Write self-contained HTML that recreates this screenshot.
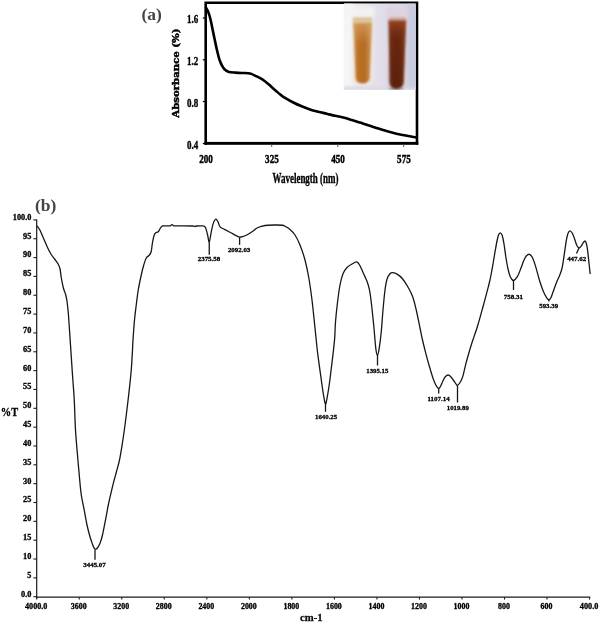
<!DOCTYPE html>
<html lang="en"><head><meta charset="utf-8"><title>Figure: UV-Vis absorbance and FTIR spectrum</title>
<style>
html,body{margin:0;padding:0;background:#fff;}
body{width:600px;height:623px;overflow:hidden;}
svg{display:block;}
.ser{font-family:"Liberation Serif","DejaVu Serif",serif;font-weight:bold;}
.san{font-family:"Liberation Sans","DejaVu Sans",sans-serif;font-weight:bold;}
.wide{font-family:"DejaVu Serif","Liberation Serif",serif;font-weight:bold;}
</style></head><body>
<svg width="600" height="623" viewBox="0 0 600 623">
<defs>
<filter id="b1" x="-20%" y="-20%" width="140%" height="140%"><feGaussianBlur stdDeviation="0.9"/></filter>
<filter id="b2" x="-20%" y="-20%" width="140%" height="140%"><feGaussianBlur stdDeviation="1.6"/></filter>
<filter id="soft" x="-5%" y="-5%" width="110%" height="110%"><feGaussianBlur stdDeviation="0.35"/></filter>
<linearGradient id="bg" x1="0" y1="0" x2="1" y2="0">
<stop offset="0" stop-color="#f3f3f6"/><stop offset="0.45" stop-color="#e3e0ea"/><stop offset="1" stop-color="#d2d3e5"/></linearGradient>
<linearGradient id="t1" x1="0" y1="0" x2="1" y2="0">
<stop offset="0" stop-color="#cf9a52"/><stop offset="0.25" stop-color="#bd7226"/><stop offset="0.6" stop-color="#b66a20"/><stop offset="1" stop-color="#cf9c60"/></linearGradient>
<linearGradient id="t2" x1="0" y1="0" x2="1" y2="0">
<stop offset="0" stop-color="#7a3a22"/><stop offset="0.3" stop-color="#5e2411"/><stop offset="0.7" stop-color="#66280f"/><stop offset="1" stop-color="#8a4a30"/></linearGradient>
<linearGradient id="t1v" x1="0" y1="0" x2="0" y2="1"><stop offset="0" stop-color="#d6a266" stop-opacity="0.7"/><stop offset="1" stop-color="#d6a266" stop-opacity="0"/></linearGradient>
<linearGradient id="t2v" x1="0" y1="0" x2="0" y2="1">
<stop offset="0" stop-color="#a04a22" stop-opacity="0.9"/><stop offset="0.25" stop-color="#7a2e14" stop-opacity="0.3"/><stop offset="1" stop-color="#4a1a0c" stop-opacity="0.3"/></linearGradient>
<clipPath id="pc"><rect x="343.6" y="3.2" width="72.2" height="86.6"/></clipPath>
</defs>
<rect width="600" height="623" fill="#fff"/>
<g id="panel-a">
<path d="M205.7,144.8 V2.7 H417 V144.8" fill="none" stroke="#000" stroke-width="2.6" stroke-linejoin="miter"/>
<rect x="204.4" y="141.9" width="213.9" height="2.9" fill="#000"/>
<g clip-path="url(#pc)">
<rect x="343.6" y="3.2" width="72.2" height="86.6" fill="url(#bg)"/>
<g filter="url(#b2)">
<rect x="343" y="86.5" width="74" height="5" fill="#dcdae4"/>
<ellipse cx="396" cy="89.3" rx="8" ry="1.6" fill="#5a4a4a" opacity="0.7"/>
<rect x="344" y="4" width="9" height="82" fill="#f6f6f8" opacity="0.8"/>
<rect x="408" y="4" width="9" height="84" fill="#c6c9de" opacity="0.8"/>
<rect x="350.5" y="7" width="24" height="12" rx="2" fill="#f5f2f2" opacity="0.85"/>
<rect x="351.5" y="18" width="22" height="66" rx="3" fill="#efe6df" opacity="0.8"/>
<rect x="386.5" y="7.5" width="22" height="12" rx="2" fill="#dfd3dd" opacity="0.9"/>
<rect x="386.8" y="18" width="21" height="70" rx="3" fill="#d9cfd8" opacity="0.8"/>
</g>
<g filter="url(#b1)">
<rect x="353" y="17.3" width="19" height="6.5" fill="#dcc59a"/>
<path d="M353.3,23.3 H372 L369.8,78 Q369.2,83.4 362.6,83.4 Q356,83.4 355.5,78 Z" fill="url(#t1)"/>
<path d="M353.3,23.3 H372 L371.2,44 H354.1 Z" fill="url(#t1v)"/>
<path d="M388.6,20 H406.2 L403.8,82 Q403.2,88.8 396.2,88.8 Q389.8,88.8 389.4,82 Z" fill="url(#t2)"/>
<path d="M388.6,20 H406.2 L403.8,82 Q403.2,88.8 396.2,88.8 Q389.8,88.8 389.4,82 Z" fill="url(#t2v)"/>
<rect x="389.2" y="17.5" width="16.5" height="3" fill="#c49a8a" opacity="0.8"/>
</g></g>
<path d="M205.60,7.00 C205.93,7.58 206.93,9.00 207.60,10.50 C208.27,12.00 209.00,14.00 209.60,16.00 C210.20,18.00 210.67,20.08 211.20,22.50 C211.73,24.92 212.20,27.57 212.80,30.50 C213.40,33.43 214.12,36.88 214.80,40.10 C215.48,43.32 216.22,46.85 216.90,49.80 C217.58,52.75 218.23,55.53 218.90,57.80 C219.57,60.07 220.17,61.75 220.90,63.40 C221.63,65.05 222.50,66.55 223.30,67.70 C224.10,68.85 224.77,69.60 225.70,70.30 C226.63,71.00 227.30,71.52 228.90,71.90 C230.50,72.28 233.17,72.42 235.30,72.60 C237.43,72.78 239.55,72.90 241.70,73.00 C243.85,73.10 246.58,73.05 248.20,73.20 C249.82,73.35 250.07,73.40 251.40,73.90 C252.73,74.40 254.43,75.32 256.20,76.20 C257.97,77.08 259.98,77.90 262.00,79.20 C264.02,80.50 266.55,82.57 268.30,84.00 C270.05,85.43 271.10,86.55 272.50,87.80 C273.90,89.05 275.32,90.32 276.70,91.50 C278.08,92.68 279.42,93.83 280.80,94.90 C282.18,95.97 282.92,96.63 285.00,97.90 C287.08,99.17 290.52,101.10 293.30,102.50 C296.08,103.90 298.92,105.15 301.70,106.30 C304.48,107.45 307.23,108.50 310.00,109.40 C312.77,110.30 315.52,110.98 318.30,111.70 C321.08,112.42 323.92,113.02 326.70,113.70 C329.48,114.38 332.23,115.15 335.00,115.80 C337.77,116.45 340.52,116.90 343.30,117.60 C346.08,118.30 348.92,119.17 351.70,120.00 C354.48,120.83 357.78,121.89 360.00,122.60 C362.22,123.31 362.08,123.31 365.00,124.25 C367.92,125.19 373.33,126.96 377.50,128.25 C381.67,129.54 385.83,130.88 390.00,132.00 C394.17,133.12 398.17,134.10 402.50,135.00 C406.83,135.90 413.75,137.00 416.00,137.40" fill="none" stroke="#000" stroke-width="2.6" stroke-linecap="butt" stroke-linejoin="round"/>
<line x1="202.8" y1="18.00" x2="205" y2="18.00" stroke="#000" stroke-width="1.2"/>
<text class="ser" x="198.2" y="23.20" font-size="13.5" text-anchor="end" textLength="11.2" lengthAdjust="spacingAndGlyphs" fill="#000" stroke="#000" stroke-width="0.4">1.6</text>
<line x1="202.8" y1="59.75" x2="205" y2="59.75" stroke="#000" stroke-width="1.2"/>
<text class="ser" x="198.2" y="64.95" font-size="13.5" text-anchor="end" textLength="11.2" lengthAdjust="spacingAndGlyphs" fill="#000" stroke="#000" stroke-width="0.4">1.2</text>
<line x1="202.8" y1="101.50" x2="205" y2="101.50" stroke="#000" stroke-width="1.2"/>
<text class="ser" x="198.2" y="106.70" font-size="13.5" text-anchor="end" textLength="11.2" lengthAdjust="spacingAndGlyphs" fill="#000" stroke="#000" stroke-width="0.4">0.8</text>
<line x1="202.8" y1="143.50" x2="205" y2="143.50" stroke="#000" stroke-width="1.2"/>
<text class="ser" x="198.2" y="148.70" font-size="13.5" text-anchor="end" textLength="11.2" lengthAdjust="spacingAndGlyphs" fill="#000" stroke="#000" stroke-width="0.4">0.4</text>
<text class="ser" x="206.00" y="162.7" font-size="13.3" text-anchor="middle" textLength="13.6" lengthAdjust="spacingAndGlyphs" fill="#000" stroke="#000" stroke-width="0.5">200</text>
<line x1="271.70" y1="144" x2="271.70" y2="147" stroke="#444" stroke-width="0.9"/>
<text class="ser" x="271.90" y="162.7" font-size="13.3" text-anchor="middle" textLength="13.6" lengthAdjust="spacingAndGlyphs" fill="#000" stroke="#000" stroke-width="0.5">325</text>
<line x1="337.80" y1="144" x2="337.80" y2="147" stroke="#444" stroke-width="0.9"/>
<text class="ser" x="338.00" y="162.7" font-size="13.3" text-anchor="middle" textLength="13.6" lengthAdjust="spacingAndGlyphs" fill="#000" stroke="#000" stroke-width="0.5">450</text>
<line x1="403.70" y1="144" x2="403.70" y2="147" stroke="#444" stroke-width="0.9"/>
<text class="ser" x="403.90" y="162.7" font-size="13.3" text-anchor="middle" textLength="13.6" lengthAdjust="spacingAndGlyphs" fill="#000" stroke="#000" stroke-width="0.5">575</text>
<text class="ser" x="305.5" y="182.5" font-size="13.6" text-anchor="middle" textLength="66" lengthAdjust="spacingAndGlyphs" fill="#000" stroke="#000" stroke-width="0.35">Wavelength (nm)</text>
<text class="wide" transform="translate(178.9,73.1) rotate(-90)" font-size="8.6" text-anchor="middle" textLength="89.2" lengthAdjust="spacingAndGlyphs" fill="#000" stroke="#000" stroke-width="0.45">Absorbance (%)</text>
<text class="ser" x="151.7" y="19.6" font-size="17.5" text-anchor="middle" fill="#444">(a)</text>
</g>
<g id="panel-b">
<text class="ser" x="45.7" y="211" font-size="17.5" text-anchor="middle" fill="#444">(b)</text>
<line x1="36.70" y1="219.6" x2="36.70" y2="598.6" stroke="#1a1a1a" stroke-width="1.2"/>
<line x1="36.10" y1="597.20" x2="590.3" y2="597.20" stroke="#1a1a1a" stroke-width="1.3"/>
<line x1="33.4" y1="219.90" x2="36.70" y2="219.90" stroke="#1a1a1a" stroke-width="1.1"/>
<text class="ser" x="31.4" y="219.80" font-size="7.8" text-anchor="end" textLength="18.6" lengthAdjust="spacingAndGlyphs" fill="#000" stroke="#000" stroke-width="0.3">100.0</text>
<line x1="33.4" y1="238.74" x2="36.70" y2="238.74" stroke="#1a1a1a" stroke-width="1.1"/>
<text class="ser" x="31.4" y="238.64" font-size="7.8" text-anchor="end" textLength="8.3" lengthAdjust="spacingAndGlyphs" fill="#000" stroke="#000" stroke-width="0.3">95</text>
<line x1="33.4" y1="257.58" x2="36.70" y2="257.58" stroke="#1a1a1a" stroke-width="1.1"/>
<text class="ser" x="31.4" y="257.48" font-size="7.8" text-anchor="end" textLength="8.3" lengthAdjust="spacingAndGlyphs" fill="#000" stroke="#000" stroke-width="0.3">90</text>
<line x1="33.4" y1="276.42" x2="36.70" y2="276.42" stroke="#1a1a1a" stroke-width="1.1"/>
<text class="ser" x="31.4" y="276.32" font-size="7.8" text-anchor="end" textLength="8.3" lengthAdjust="spacingAndGlyphs" fill="#000" stroke="#000" stroke-width="0.3">85</text>
<line x1="33.4" y1="295.26" x2="36.70" y2="295.26" stroke="#1a1a1a" stroke-width="1.1"/>
<text class="ser" x="31.4" y="295.16" font-size="7.8" text-anchor="end" textLength="8.3" lengthAdjust="spacingAndGlyphs" fill="#000" stroke="#000" stroke-width="0.3">80</text>
<line x1="33.4" y1="314.10" x2="36.70" y2="314.10" stroke="#1a1a1a" stroke-width="1.1"/>
<text class="ser" x="31.4" y="314.00" font-size="7.8" text-anchor="end" textLength="8.3" lengthAdjust="spacingAndGlyphs" fill="#000" stroke="#000" stroke-width="0.3">75</text>
<line x1="33.4" y1="332.94" x2="36.70" y2="332.94" stroke="#1a1a1a" stroke-width="1.1"/>
<text class="ser" x="31.4" y="332.84" font-size="7.8" text-anchor="end" textLength="8.3" lengthAdjust="spacingAndGlyphs" fill="#000" stroke="#000" stroke-width="0.3">70</text>
<line x1="33.4" y1="351.78" x2="36.70" y2="351.78" stroke="#1a1a1a" stroke-width="1.1"/>
<text class="ser" x="31.4" y="351.68" font-size="7.8" text-anchor="end" textLength="8.3" lengthAdjust="spacingAndGlyphs" fill="#000" stroke="#000" stroke-width="0.3">65</text>
<line x1="33.4" y1="370.62" x2="36.70" y2="370.62" stroke="#1a1a1a" stroke-width="1.1"/>
<text class="ser" x="31.4" y="370.52" font-size="7.8" text-anchor="end" textLength="8.3" lengthAdjust="spacingAndGlyphs" fill="#000" stroke="#000" stroke-width="0.3">60</text>
<line x1="33.4" y1="389.46" x2="36.70" y2="389.46" stroke="#1a1a1a" stroke-width="1.1"/>
<text class="ser" x="31.4" y="389.36" font-size="7.8" text-anchor="end" textLength="8.3" lengthAdjust="spacingAndGlyphs" fill="#000" stroke="#000" stroke-width="0.3">55</text>
<line x1="33.4" y1="408.30" x2="36.70" y2="408.30" stroke="#1a1a1a" stroke-width="1.1"/>
<text class="ser" x="31.4" y="408.20" font-size="7.8" text-anchor="end" textLength="8.3" lengthAdjust="spacingAndGlyphs" fill="#000" stroke="#000" stroke-width="0.3">50</text>
<line x1="33.4" y1="427.14" x2="36.70" y2="427.14" stroke="#1a1a1a" stroke-width="1.1"/>
<text class="ser" x="31.4" y="427.04" font-size="7.8" text-anchor="end" textLength="8.3" lengthAdjust="spacingAndGlyphs" fill="#000" stroke="#000" stroke-width="0.3">45</text>
<line x1="33.4" y1="445.98" x2="36.70" y2="445.98" stroke="#1a1a1a" stroke-width="1.1"/>
<text class="ser" x="31.4" y="445.88" font-size="7.8" text-anchor="end" textLength="8.3" lengthAdjust="spacingAndGlyphs" fill="#000" stroke="#000" stroke-width="0.3">40</text>
<line x1="33.4" y1="464.82" x2="36.70" y2="464.82" stroke="#1a1a1a" stroke-width="1.1"/>
<text class="ser" x="31.4" y="464.72" font-size="7.8" text-anchor="end" textLength="8.3" lengthAdjust="spacingAndGlyphs" fill="#000" stroke="#000" stroke-width="0.3">35</text>
<line x1="33.4" y1="483.66" x2="36.70" y2="483.66" stroke="#1a1a1a" stroke-width="1.1"/>
<text class="ser" x="31.4" y="483.56" font-size="7.8" text-anchor="end" textLength="8.3" lengthAdjust="spacingAndGlyphs" fill="#000" stroke="#000" stroke-width="0.3">30</text>
<line x1="33.4" y1="502.50" x2="36.70" y2="502.50" stroke="#1a1a1a" stroke-width="1.1"/>
<text class="ser" x="31.4" y="502.40" font-size="7.8" text-anchor="end" textLength="8.3" lengthAdjust="spacingAndGlyphs" fill="#000" stroke="#000" stroke-width="0.3">25</text>
<line x1="33.4" y1="521.34" x2="36.70" y2="521.34" stroke="#1a1a1a" stroke-width="1.1"/>
<text class="ser" x="31.4" y="521.24" font-size="7.8" text-anchor="end" textLength="8.3" lengthAdjust="spacingAndGlyphs" fill="#000" stroke="#000" stroke-width="0.3">20</text>
<line x1="33.4" y1="540.18" x2="36.70" y2="540.18" stroke="#1a1a1a" stroke-width="1.1"/>
<text class="ser" x="31.4" y="540.08" font-size="7.8" text-anchor="end" textLength="8.3" lengthAdjust="spacingAndGlyphs" fill="#000" stroke="#000" stroke-width="0.3">15</text>
<line x1="33.4" y1="559.02" x2="36.70" y2="559.02" stroke="#1a1a1a" stroke-width="1.1"/>
<text class="ser" x="31.4" y="558.92" font-size="7.8" text-anchor="end" textLength="8.3" lengthAdjust="spacingAndGlyphs" fill="#000" stroke="#000" stroke-width="0.3">10</text>
<line x1="33.4" y1="577.86" x2="36.70" y2="577.86" stroke="#1a1a1a" stroke-width="1.1"/>
<text class="ser" x="31.4" y="577.76" font-size="7.8" text-anchor="end" textLength="4.1" lengthAdjust="spacingAndGlyphs" fill="#000" stroke="#000" stroke-width="0.3">5</text>
<line x1="33.4" y1="596.70" x2="36.70" y2="596.70" stroke="#1a1a1a" stroke-width="1.1"/>
<text class="ser" x="31.4" y="596.60" font-size="7.8" text-anchor="end" textLength="10.4" lengthAdjust="spacingAndGlyphs" fill="#000" stroke="#000" stroke-width="0.3">0.0</text>
<line x1="36.70" y1="597.20" x2="36.70" y2="599.6" stroke="#1a1a1a" stroke-width="1.1"/>
<text class="ser" x="36.20" y="609.3" font-size="7.8" text-anchor="middle" textLength="22.3" lengthAdjust="spacingAndGlyphs" fill="#000" stroke="#000" stroke-width="0.3">4000.0</text>
<line x1="79.23" y1="597.20" x2="79.23" y2="599.6" stroke="#1a1a1a" stroke-width="1.1"/>
<text class="ser" x="78.73" y="609.3" font-size="7.8" text-anchor="middle" textLength="15.8" lengthAdjust="spacingAndGlyphs" fill="#000" stroke="#000" stroke-width="0.3">3600</text>
<line x1="121.76" y1="597.20" x2="121.76" y2="599.6" stroke="#1a1a1a" stroke-width="1.1"/>
<text class="ser" x="121.26" y="609.3" font-size="7.8" text-anchor="middle" textLength="15.8" lengthAdjust="spacingAndGlyphs" fill="#000" stroke="#000" stroke-width="0.3">3200</text>
<line x1="164.29" y1="597.20" x2="164.29" y2="599.6" stroke="#1a1a1a" stroke-width="1.1"/>
<text class="ser" x="163.79" y="609.3" font-size="7.8" text-anchor="middle" textLength="15.8" lengthAdjust="spacingAndGlyphs" fill="#000" stroke="#000" stroke-width="0.3">2800</text>
<line x1="206.82" y1="597.20" x2="206.82" y2="599.6" stroke="#1a1a1a" stroke-width="1.1"/>
<text class="ser" x="206.32" y="609.3" font-size="7.8" text-anchor="middle" textLength="15.8" lengthAdjust="spacingAndGlyphs" fill="#000" stroke="#000" stroke-width="0.3">2400</text>
<line x1="249.35" y1="597.20" x2="249.35" y2="599.6" stroke="#1a1a1a" stroke-width="1.1"/>
<text class="ser" x="248.85" y="609.3" font-size="7.8" text-anchor="middle" textLength="15.8" lengthAdjust="spacingAndGlyphs" fill="#000" stroke="#000" stroke-width="0.3">2000</text>
<line x1="291.88" y1="597.20" x2="291.88" y2="599.6" stroke="#1a1a1a" stroke-width="1.1"/>
<text class="ser" x="291.38" y="609.3" font-size="7.8" text-anchor="middle" textLength="15.8" lengthAdjust="spacingAndGlyphs" fill="#000" stroke="#000" stroke-width="0.3">1800</text>
<line x1="334.41" y1="597.20" x2="334.41" y2="599.6" stroke="#1a1a1a" stroke-width="1.1"/>
<text class="ser" x="333.91" y="609.3" font-size="7.8" text-anchor="middle" textLength="15.8" lengthAdjust="spacingAndGlyphs" fill="#000" stroke="#000" stroke-width="0.3">1600</text>
<line x1="376.94" y1="597.20" x2="376.94" y2="599.6" stroke="#1a1a1a" stroke-width="1.1"/>
<text class="ser" x="376.44" y="609.3" font-size="7.8" text-anchor="middle" textLength="15.8" lengthAdjust="spacingAndGlyphs" fill="#000" stroke="#000" stroke-width="0.3">1400</text>
<line x1="419.47" y1="597.20" x2="419.47" y2="599.6" stroke="#1a1a1a" stroke-width="1.1"/>
<text class="ser" x="418.97" y="609.3" font-size="7.8" text-anchor="middle" textLength="15.8" lengthAdjust="spacingAndGlyphs" fill="#000" stroke="#000" stroke-width="0.3">1200</text>
<line x1="462.00" y1="597.20" x2="462.00" y2="599.6" stroke="#1a1a1a" stroke-width="1.1"/>
<text class="ser" x="461.50" y="609.3" font-size="7.8" text-anchor="middle" textLength="15.8" lengthAdjust="spacingAndGlyphs" fill="#000" stroke="#000" stroke-width="0.3">1000</text>
<line x1="504.53" y1="597.20" x2="504.53" y2="599.6" stroke="#1a1a1a" stroke-width="1.1"/>
<text class="ser" x="504.03" y="609.3" font-size="7.8" text-anchor="middle" textLength="11.9" lengthAdjust="spacingAndGlyphs" fill="#000" stroke="#000" stroke-width="0.3">800</text>
<line x1="547.06" y1="597.20" x2="547.06" y2="599.6" stroke="#1a1a1a" stroke-width="1.1"/>
<text class="ser" x="546.56" y="609.3" font-size="7.8" text-anchor="middle" textLength="11.9" lengthAdjust="spacingAndGlyphs" fill="#000" stroke="#000" stroke-width="0.3">600</text>
<line x1="589.59" y1="597.20" x2="589.59" y2="599.6" stroke="#1a1a1a" stroke-width="1.1"/>
<text class="ser" x="589.09" y="609.3" font-size="7.8" text-anchor="middle" textLength="18.6" lengthAdjust="spacingAndGlyphs" fill="#000" stroke="#000" stroke-width="0.3">400.0</text>
<text class="ser" x="0.8" y="416.3" font-size="11.6" textLength="17.3" lengthAdjust="spacingAndGlyphs" fill="#000" stroke="#000" stroke-width="0.3">%T</text>
<text class="ser" x="311.3" y="620.9" font-size="10.7" text-anchor="middle" textLength="22.6" lengthAdjust="spacingAndGlyphs" fill="#111" stroke="#111" stroke-width="0.3">cm-1</text>
<path d="M36.75,225.80 C36.99,226.07 37.66,226.65 38.20,227.40 C38.74,228.15 39.08,228.41 40.00,230.30 C40.92,232.19 42.50,235.88 43.75,238.75 C45.00,241.62 46.25,244.88 47.50,247.50 C48.75,250.12 50.00,252.50 51.25,254.50 C52.50,256.50 53.88,257.96 55.00,259.50 C56.12,261.04 57.17,262.21 58.00,263.75 C58.83,265.29 59.46,266.46 60.00,268.75 C60.54,271.04 60.71,274.38 61.25,277.50 C61.79,280.62 62.50,284.58 63.25,287.50 C64.00,290.42 65.12,292.71 65.75,295.00 C66.38,297.29 66.58,298.33 67.00,301.25 C67.42,304.17 67.83,307.71 68.25,312.50 C68.67,317.29 69.12,324.58 69.50,330.00 C69.88,335.42 70.17,340.00 70.50,345.00 C70.83,350.00 71.17,355.00 71.50,360.00 C71.83,365.00 72.04,368.33 72.50,375.00 C72.96,381.67 73.75,390.83 74.25,400.00 C74.75,409.17 74.96,420.83 75.50,430.00 C76.04,439.17 76.80,446.67 77.50,455.00 C78.20,463.33 79.07,473.33 79.70,480.00 C80.33,486.67 80.55,490.00 81.30,495.00 C82.05,500.00 83.25,505.00 84.20,510.00 C85.15,515.00 86.03,520.55 87.00,525.00 C87.97,529.45 89.08,533.50 90.00,536.70 C90.92,539.90 91.93,542.57 92.50,544.20 C93.07,545.83 93.12,545.85 93.40,546.50 C93.68,547.15 93.95,547.68 94.20,548.10 C94.45,548.52 94.67,548.80 94.90,549.00 C95.13,549.20 95.35,549.30 95.60,549.30 C95.85,549.30 96.12,549.22 96.40,549.00 C96.68,548.78 96.95,548.47 97.30,548.00 C97.65,547.53 98.05,546.98 98.50,546.20 C98.95,545.42 99.33,545.17 100.00,543.30 C100.67,541.43 101.53,539.17 102.50,535.00 C103.47,530.83 104.83,523.30 105.80,518.30 C106.77,513.30 107.32,509.72 108.30,505.00 C109.28,500.28 110.72,494.17 111.70,490.00 C112.68,485.83 113.44,482.92 114.20,480.00 C114.96,477.08 115.37,475.83 116.25,472.50 C117.13,469.17 118.46,465.00 119.50,460.00 C120.54,455.00 121.58,448.33 122.50,442.50 C123.42,436.67 124.17,431.25 125.00,425.00 C125.83,418.75 126.75,411.25 127.50,405.00 C128.25,398.75 128.88,393.33 129.50,387.50 C130.12,381.67 130.75,376.25 131.25,370.00 C131.75,363.75 132.21,355.00 132.50,350.00 C132.79,345.00 132.67,345.00 133.00,340.00 C133.33,335.00 133.96,325.83 134.50,320.00 C135.04,314.17 135.62,310.00 136.25,305.00 C136.88,300.00 137.42,295.00 138.25,290.00 C139.08,285.00 140.33,279.17 141.25,275.00 C142.17,270.83 142.92,267.83 143.75,265.00 C144.58,262.17 145.29,259.67 146.25,258.00 C147.21,256.33 148.67,256.12 149.50,255.00 C150.33,253.88 150.75,253.33 151.25,251.25 C151.75,249.17 152.00,245.21 152.50,242.50 C153.00,239.79 153.62,236.67 154.25,235.00 C154.88,233.33 155.54,233.08 156.25,232.50 C156.96,231.92 157.88,232.12 158.50,231.50 C159.12,230.88 159.50,229.57 160.00,228.75 C160.50,227.93 161.00,227.07 161.50,226.60 C162.00,226.12 162.25,226.03 163.00,225.90 C163.75,225.77 164.78,225.82 166.00,225.80 C167.22,225.78 169.43,225.93 170.30,225.80 C171.17,225.67 170.92,225.20 171.20,225.00 C171.48,224.80 171.73,224.60 172.00,224.60 C172.27,224.60 172.52,224.80 172.80,225.00 C173.08,225.20 172.50,225.65 173.70,225.80 C174.90,225.95 176.87,225.87 180.00,225.90 C183.13,225.93 190.05,225.88 192.50,226.00 C194.95,226.12 194.03,226.60 194.70,226.60 C195.37,226.60 195.20,226.12 196.50,226.00 C197.80,225.88 201.22,225.87 202.50,225.90 C203.78,225.93 203.68,225.88 204.20,226.20 C204.72,226.52 205.05,226.42 205.60,227.80 C206.15,229.18 206.89,232.13 207.50,234.50 C208.11,236.87 208.67,242.20 209.25,242.00 C209.83,241.80 210.42,236.10 211.00,233.30 C211.58,230.50 212.17,227.33 212.75,225.20 C213.33,223.07 213.96,221.52 214.50,220.50 C215.04,219.48 215.42,218.90 216.00,219.10 C216.58,219.30 217.32,220.40 218.00,221.70 C218.68,223.00 218.93,225.58 220.10,226.90 C221.27,228.22 223.22,228.62 225.00,229.60 C226.78,230.57 228.85,231.70 230.80,232.75 C232.75,233.80 235.23,235.18 236.70,235.90 C238.17,236.62 238.63,236.98 239.60,237.10 C240.57,237.22 241.23,237.00 242.50,236.60 C243.77,236.20 245.45,235.63 247.20,234.70 C248.95,233.77 251.28,232.16 253.00,231.00 C254.72,229.84 255.50,228.67 257.50,227.75 C259.50,226.83 262.08,225.96 265.00,225.50 C267.92,225.04 272.08,225.04 275.00,225.00 C277.92,224.96 280.83,225.04 282.50,225.25 C284.17,225.46 283.75,225.54 285.00,226.25 C286.25,226.96 288.33,228.04 290.00,229.50 C291.67,230.96 293.33,232.42 295.00,235.00 C296.67,237.58 298.33,240.83 300.00,245.00 C301.67,249.17 303.54,254.58 305.00,260.00 C306.46,265.42 307.58,270.83 308.75,277.50 C309.92,284.17 310.96,291.58 312.00,300.00 C313.04,308.42 314.08,319.33 315.00,328.00 C315.92,336.67 316.72,345.28 317.50,352.00 C318.28,358.72 318.95,362.80 319.70,368.30 C320.45,373.80 321.32,380.27 322.00,385.00 C322.68,389.73 323.22,393.50 323.80,396.70 C324.38,399.90 324.97,403.93 325.50,404.20 C326.03,404.47 326.38,401.50 327.00,398.30 C327.62,395.10 328.48,390.00 329.20,385.00 C329.92,380.00 330.62,373.85 331.30,368.30 C331.98,362.75 332.73,356.75 333.30,351.70 C333.87,346.65 334.33,342.95 334.70,338.00 C335.07,333.05 335.03,327.92 335.50,322.00 C335.97,316.08 336.75,308.67 337.50,302.50 C338.25,296.33 339.08,289.79 340.00,285.00 C340.92,280.21 341.83,276.67 343.00,273.75 C344.17,270.83 345.42,269.16 347.00,267.50 C348.58,265.84 350.97,264.75 352.50,263.80 C354.03,262.85 355.25,261.93 356.20,261.80 C357.15,261.67 357.57,262.33 358.20,263.00 C358.83,263.67 359.37,264.63 360.00,265.80 C360.63,266.97 361.30,268.47 362.00,270.00 C362.70,271.53 363.53,273.50 364.20,275.00 C364.87,276.50 365.45,277.70 366.00,279.00 C366.55,280.30 367.00,281.30 367.50,282.80 C368.00,284.30 368.55,286.13 369.00,288.00 C369.45,289.87 369.73,290.83 370.20,294.00 C370.67,297.17 371.20,301.67 371.80,307.00 C372.40,312.33 373.13,319.12 373.80,326.00 C374.47,332.88 375.18,343.38 375.80,348.30 C376.42,353.22 376.93,355.50 377.50,355.50 C378.07,355.50 378.57,352.22 379.20,348.30 C379.82,344.38 380.62,338.38 381.25,332.00 C381.88,325.62 382.38,317.00 383.00,310.00 C383.62,303.00 384.33,295.13 385.00,290.00 C385.67,284.87 386.17,281.90 387.00,279.20 C387.83,276.50 389.05,274.88 390.00,273.80 C390.95,272.72 391.45,272.60 392.70,272.70 C393.95,272.80 395.87,273.39 397.50,274.40 C399.13,275.41 400.83,276.77 402.50,278.75 C404.17,280.73 405.83,283.33 407.50,286.25 C409.17,289.17 411.04,292.29 412.50,296.25 C413.96,300.21 415.00,304.71 416.25,310.00 C417.50,315.29 418.96,323.00 420.00,328.00 C421.04,333.00 421.53,335.78 422.50,340.00 C423.47,344.22 424.68,349.00 425.80,353.30 C426.92,357.60 428.08,361.90 429.20,365.80 C430.32,369.70 431.53,373.78 432.50,376.70 C433.47,379.62 434.25,381.58 435.00,383.30 C435.75,385.02 436.52,386.23 437.00,387.00 C437.48,387.77 437.62,387.68 437.90,387.90 C438.18,388.12 438.42,388.32 438.70,388.30 C438.98,388.28 439.25,388.22 439.60,387.80 C439.95,387.38 440.23,386.97 440.80,385.80 C441.37,384.63 442.25,382.32 443.00,380.80 C443.75,379.28 444.42,377.67 445.30,376.70 C446.18,375.73 447.38,375.00 448.30,375.00 C449.22,375.00 449.97,375.87 450.80,376.70 C451.63,377.53 452.47,378.83 453.30,380.00 C454.13,381.17 455.10,382.82 455.80,383.70 C456.50,384.58 456.67,385.72 457.50,385.30 C458.33,384.88 459.87,382.85 460.80,381.20 C461.73,379.55 462.30,378.13 463.10,375.40 C463.90,372.67 464.70,368.33 465.60,364.80 C466.50,361.27 467.53,357.58 468.50,354.20 C469.47,350.82 470.43,347.55 471.40,344.50 C472.37,341.45 473.33,338.78 474.30,335.90 C475.27,333.02 476.25,330.25 477.20,327.20 C478.15,324.15 479.05,320.97 480.00,317.60 C480.95,314.23 481.93,310.53 482.90,307.00 C483.87,303.47 484.93,299.62 485.80,296.40 C486.67,293.18 487.48,290.10 488.10,287.70 C488.72,285.30 489.02,284.12 489.50,282.00 C489.98,279.88 490.42,278.00 491.00,275.00 C491.58,272.00 492.33,267.83 493.00,264.00 C493.67,260.17 494.33,255.83 495.00,252.00 C495.67,248.17 496.42,243.83 497.00,241.00 C497.58,238.17 497.95,236.37 498.50,235.00 C499.05,233.63 499.68,232.72 500.30,232.80 C500.92,232.88 501.58,233.63 502.20,235.50 C502.82,237.37 503.37,240.25 504.00,244.00 C504.63,247.75 505.33,253.83 506.00,258.00 C506.67,262.17 507.33,266.00 508.00,269.00 C508.67,272.00 509.33,274.25 510.00,276.00 C510.67,277.75 511.42,278.75 512.00,279.50 C512.58,280.25 512.92,280.58 513.50,280.50 C514.08,280.42 514.75,279.83 515.50,279.00 C516.25,278.17 517.08,277.33 518.00,275.50 C518.92,273.67 520.00,270.58 521.00,268.00 C522.00,265.42 523.08,262.03 524.00,260.00 C524.92,257.97 525.58,256.75 526.50,255.80 C527.42,254.85 528.52,254.02 529.50,254.30 C530.48,254.58 531.38,255.48 532.40,257.50 C533.42,259.52 534.40,262.52 535.60,266.40 C536.80,270.28 538.27,276.53 539.60,280.80 C540.93,285.07 542.38,289.12 543.60,292.00 C544.82,294.88 546.02,296.81 546.90,298.10 C547.78,299.39 548.23,299.82 548.90,299.75 C549.57,299.68 550.17,299.12 550.90,297.70 C551.63,296.27 552.37,293.75 553.30,291.20 C554.23,288.65 555.43,285.07 556.50,282.40 C557.57,279.73 558.77,277.60 559.70,275.20 C560.63,272.80 561.43,270.82 562.10,268.00 C562.77,265.18 563.17,261.78 563.70,258.30 C564.23,254.82 564.77,250.57 565.30,247.10 C565.83,243.63 566.37,239.97 566.90,237.50 C567.43,235.03 567.92,233.38 568.50,232.30 C569.08,231.22 569.73,230.80 570.40,231.00 C571.07,231.20 571.80,232.17 572.50,233.50 C573.20,234.83 573.87,237.00 574.60,239.00 C575.33,241.00 576.17,244.02 576.90,245.50 C577.63,246.98 578.32,247.77 579.00,247.90 C579.68,248.03 580.33,247.10 581.00,246.30 C581.67,245.50 582.33,243.98 583.00,243.10 C583.67,242.22 584.42,240.87 585.00,241.00 C585.58,241.13 586.03,242.08 586.50,243.90 C586.97,245.72 587.38,248.68 587.80,251.90 C588.22,255.12 588.60,259.52 589.00,263.20 C589.40,266.88 590.00,272.20 590.20,274.00" fill="none" stroke="#161616" stroke-width="1.3" stroke-linejoin="round"/>
<line x1="95.00" y1="549.70" x2="95.00" y2="559.80" stroke="#161616" stroke-width="1.3"/>
<text class="ser" x="94.50" y="566.80" font-size="7.0" text-anchor="middle" textLength="22.4" lengthAdjust="spacingAndGlyphs" fill="#000" stroke="#000" stroke-width="0.28">3445.07</text>
<line x1="209.25" y1="242.00" x2="209.25" y2="254.80" stroke="#161616" stroke-width="1.3"/>
<text class="ser" x="209.00" y="261.00" font-size="7.0" text-anchor="middle" textLength="22.7" lengthAdjust="spacingAndGlyphs" fill="#000" stroke="#000" stroke-width="0.28">2375.58</text>
<line x1="239.60" y1="237.10" x2="239.60" y2="244.90" stroke="#161616" stroke-width="1.3"/>
<text class="ser" x="239.10" y="251.70" font-size="7.0" text-anchor="middle" textLength="22.4" lengthAdjust="spacingAndGlyphs" fill="#000" stroke="#000" stroke-width="0.28">2092.03</text>
<line x1="325.50" y1="404.20" x2="325.50" y2="411.80" stroke="#161616" stroke-width="1.3"/>
<text class="ser" x="326.10" y="419.10" font-size="7.0" text-anchor="middle" textLength="22.2" lengthAdjust="spacingAndGlyphs" fill="#000" stroke="#000" stroke-width="0.28">1640.25</text>
<line x1="377.50" y1="355.50" x2="377.50" y2="365.50" stroke="#161616" stroke-width="1.3"/>
<text class="ser" x="377.30" y="372.90" font-size="7.0" text-anchor="middle" textLength="22.1" lengthAdjust="spacingAndGlyphs" fill="#000" stroke="#000" stroke-width="0.28">1395.15</text>
<line x1="438.70" y1="388.30" x2="438.70" y2="393.50" stroke="#161616" stroke-width="1.3"/>
<text class="ser" x="438.60" y="400.70" font-size="7.0" text-anchor="middle" textLength="22.2" lengthAdjust="spacingAndGlyphs" fill="#000" stroke="#000" stroke-width="0.28">1107.14</text>
<line x1="457.50" y1="385.30" x2="457.50" y2="402.50" stroke="#161616" stroke-width="1.3"/>
<text class="ser" x="457.80" y="410.20" font-size="7.0" text-anchor="middle" textLength="22.1" lengthAdjust="spacingAndGlyphs" fill="#000" stroke="#000" stroke-width="0.28">1019.89</text>
<line x1="513.50" y1="280.50" x2="513.50" y2="290.00" stroke="#161616" stroke-width="1.3"/>
<text class="ser" x="513.40" y="298.60" font-size="7.0" text-anchor="middle" textLength="19.2" lengthAdjust="spacingAndGlyphs" fill="#000" stroke="#000" stroke-width="0.28">758.31</text>
<line x1="548.90" y1="299.75" x2="548.90" y2="301.50" stroke="#161616" stroke-width="1.3"/>
<text class="ser" x="548.70" y="307.70" font-size="7.0" text-anchor="middle" textLength="18.9" lengthAdjust="spacingAndGlyphs" fill="#000" stroke="#000" stroke-width="0.28">593.39</text>
<line x1="579.00" y1="247.90" x2="576.50" y2="253.50" stroke="#161616" stroke-width="1.3"/>
<text class="ser" x="576.70" y="261.10" font-size="7.0" text-anchor="middle" textLength="19.1" lengthAdjust="spacingAndGlyphs" fill="#000" stroke="#000" stroke-width="0.28">447.62</text>
</g>
</svg></body></html>
